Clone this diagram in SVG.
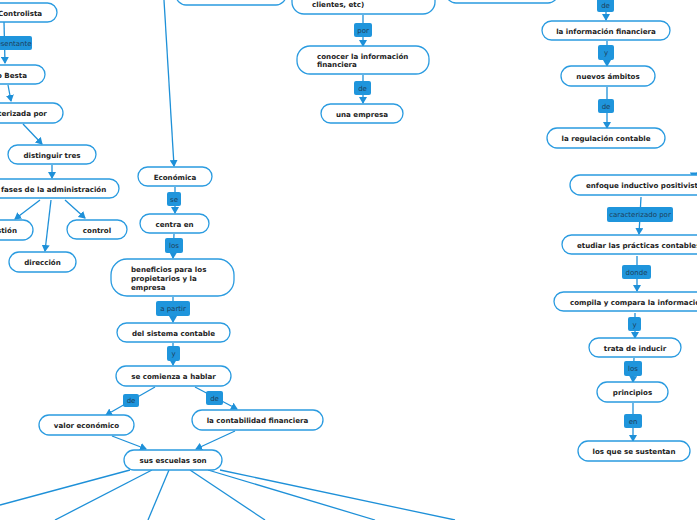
<svg xmlns="http://www.w3.org/2000/svg" width="697" height="520" viewBox="0 0 697 520">
<defs>
<marker id="a" markerWidth="8" markerHeight="8" refX="6" refY="4" orient="auto" markerUnits="userSpaceOnUse"><path d="M0,0 L7,4 L0,8 Z" fill="#1e90d8"/></marker>
<style>
.n{fill:#fff;stroke:#2a9be0;stroke-width:1.3}
.t{font-family:"DejaVu Sans",sans-serif;font-weight:bold;font-size:7.1px;fill:#222}
.c{text-anchor:middle}
.l{fill:#1f95dc;stroke:none}
.lt{font-family:"DejaVu Sans",sans-serif;font-size:7px;fill:#1d3f5a;text-anchor:middle}
.e{stroke:#1e90d8;stroke-width:1.3;fill:none}
.m{marker-end:url(#a)}
</style>
</defs>
<rect width="697" height="520" fill="#fff"/>
<g id="connectors">
<line class="e m" x1="4" y1="22" x2="5" y2="63"/>
<line class="e m" x1="8" y1="85" x2="11" y2="101"/>
<line class="e m" x1="23" y1="124" x2="42" y2="144"/>
<line class="e m" x1="52" y1="165" x2="52" y2="178"/>
<line class="e m" x1="40" y1="200" x2="15" y2="219"/>
<line class="e m" x1="51" y1="200" x2="45" y2="251"/>
<line class="e m" x1="65" y1="200" x2="85" y2="218"/>
<line class="e m" x1="164" y1="0" x2="174" y2="166"/>
<line class="e m" x1="175" y1="187" x2="175" y2="213"/>
<line class="e m" x1="174" y1="234" x2="173" y2="258"/>
<line class="e m" x1="173" y1="297" x2="173" y2="322"/>
<line class="e m" x1="173" y1="343" x2="173" y2="365"/>
<line class="e m" x1="155" y1="387" x2="106" y2="415"/>
<line class="e m" x1="195" y1="387" x2="237" y2="409"/>
<line class="e m" x1="112" y1="436" x2="146" y2="449"/>
<line class="e m" x1="235" y1="431" x2="196" y2="449"/>
<line class="e" x1="130" y1="470" x2="0" y2="505"/>
<line class="e" x1="152" y1="470" x2="55" y2="520"/>
<line class="e" x1="169" y1="470" x2="148" y2="520"/>
<line class="e" x1="190" y1="470" x2="265" y2="520"/>
<line class="e" x1="208" y1="470" x2="375" y2="520"/>
<line class="e" x1="220" y1="470" x2="455" y2="520"/>
<line class="e m" x1="363" y1="15" x2="363" y2="46"/>
<line class="e m" x1="363" y1="75" x2="363" y2="103"/>
<line class="e m" x1="606" y1="0" x2="606" y2="20"/>
<line class="e m" x1="607" y1="41" x2="607" y2="66"/>
<line class="e m" x1="607" y1="87" x2="607" y2="128"/>
<line class="e m" x1="690" y1="177" x2="697" y2="173"/>
<line class="e m" x1="641" y1="197" x2="639" y2="234"/>
<line class="e m" x1="637" y1="256" x2="637" y2="291"/>
<line class="e m" x1="635" y1="313" x2="635" y2="338"/>
<line class="e m" x1="634" y1="358" x2="633" y2="382"/>
<line class="e m" x1="633" y1="403" x2="633" y2="441"/>
<rect class="l" x="-4" y="36" width="36" height="14" rx="2"/><text class="lt" x="14" y="45.5">esentante</text>
<rect class="l" x="167" y="192" width="14" height="14" rx="2"/><text class="lt" x="174" y="201.5">se</text>
<rect class="l" x="165" y="238" width="18" height="15" rx="2"/><text class="lt" x="174" y="248">los</text>
<rect class="l" x="156" y="301" width="34" height="15" rx="2"/><text class="lt" x="173" y="311">a partir</text>
<rect class="l" x="167" y="346" width="13" height="15" rx="2"/><text class="lt" x="173.5" y="356">y</text>
<rect class="l" x="123" y="394" width="16" height="13" rx="2"/><text class="lt" x="131" y="403">de</text>
<rect class="l" x="206" y="391" width="17" height="14" rx="2"/><text class="lt" x="214.5" y="400.5">de</text>
<rect class="l" x="354" y="23" width="18" height="14" rx="2"/><text class="lt" x="363" y="32.5">por</text>
<rect class="l" x="354" y="81" width="17" height="14" rx="2"/><text class="lt" x="362.5" y="90.5">de</text>
<rect class="l" x="597" y="-2" width="17" height="14" rx="2"/><text class="lt" x="605.5" y="7.5">de</text>
<rect class="l" x="598" y="45" width="16" height="15" rx="2"/><text class="lt" x="606" y="55">y</text>
<rect class="l" x="598" y="99" width="16" height="14" rx="2"/><text class="lt" x="606" y="108.5">de</text>
<rect class="l" x="607" y="207" width="66" height="15" rx="2"/><text class="lt" x="640" y="217">caracterizado por</text>
<rect class="l" x="622" y="265" width="29" height="14" rx="2"/><text class="lt" x="636.5" y="274.5">donde</text>
<rect class="l" x="628" y="317" width="13" height="14" rx="2"/><text class="lt" x="634.5" y="326.5">y</text>
<rect class="l" x="624" y="361" width="18" height="15" rx="2"/><text class="lt" x="633" y="371">los</text>
<rect class="l" x="624" y="414" width="18" height="14" rx="2"/><text class="lt" x="633" y="423.5">en</text>
</g>
<g id="n1"><rect class="n" x="-40" y="3" width="97" height="19" rx="9.5"/><text class="t" x="-2" y="15.5">Controlista</text></g>
<g id="n2"><rect class="n" x="-40" y="65" width="85" height="19" rx="9.5"/><text class="t" x="-3" y="77.5">o Besta</text></g>
<g id="n3"><rect class="n" x="-40" y="103" width="103" height="20" rx="10"/><text class="t" x="-2" y="116">terizada por</text></g>
<g id="n4"><rect class="n" x="8" y="145" width="88" height="19" rx="9.5"/><text class="t c" x="52" y="157.5">distinguir tres</text></g>
<g id="n5"><rect class="n" x="-40" y="179" width="159" height="19" rx="9.5"/><text class="t" x="1" y="191.5">fases de la administración</text></g>
<g id="n6"><rect class="n" x="-40" y="220" width="73" height="20" rx="10"/><text class="t" x="-3" y="233">stión</text></g>
<g id="n7"><rect class="n" x="67" y="220" width="60" height="19" rx="9.5"/><text class="t c" x="97" y="232.5">control</text></g>
<g id="n8"><rect class="n" x="9" y="252" width="67" height="20" rx="10"/><text class="t c" x="42.5" y="265">dirección</text></g>
<g id="n9"><rect class="n" x="138" y="167" width="74" height="19" rx="9.5"/><text class="t c" x="175" y="179.5">Económica</text></g>
<g id="n10"><rect class="n" x="140" y="214" width="69" height="19" rx="9.5"/><text class="t c" x="174.5" y="226.5">centra en</text></g>
<g id="n11"><rect class="n" x="111" y="259" width="123" height="37" rx="16"/><text class="t" x="131" y="272">beneficios para los</text><text class="t" x="131" y="280.5">propietarios y la</text><text class="t" x="131" y="289.5">empresa</text></g>
<g id="n12"><rect class="n" x="117" y="323" width="113" height="19" rx="9.5"/><text class="t c" x="173.5" y="335.5">del sistema contable</text></g>
<g id="n13"><rect class="n" x="116" y="366" width="115" height="20" rx="10"/><text class="t c" x="173.5" y="379">se comienza a hablar</text></g>
<g id="n14"><rect class="n" x="39" y="415" width="95" height="20" rx="10"/><text class="t c" x="86.5" y="428">valor económico</text></g>
<g id="n15"><rect class="n" x="192" y="410" width="131" height="20" rx="10"/><text class="t c" x="257.5" y="423">la contabilidad financiera</text></g>
<g id="n16"><rect class="n" x="124" y="450" width="98" height="20" rx="10"/><text class="t c" x="173" y="463">sus escuelas son</text></g>
<g id="n17"><rect class="n" x="176" y="-15" width="110" height="20" rx="10"/></g>
<g id="n18"><rect class="n" x="292" y="-14" width="143" height="28" rx="12"/><text class="t" x="312" y="7">clientes, etc)</text></g>
<g id="n19"><rect class="n" x="297" y="46" width="132" height="28" rx="13"/><text class="t" x="317" y="58.5">conocer la información</text><text class="t" x="317" y="67">financiera</text></g>
<g id="n20"><rect class="n" x="321" y="104" width="82" height="19" rx="9.5"/><text class="t c" x="362" y="116.5">una empresa</text></g>
<g id="n21"><rect class="n" x="446" y="-17" width="112" height="20" rx="10"/></g>
<g id="n22"><rect class="n" x="542" y="21" width="128" height="19" rx="9.5"/><text class="t c" x="606" y="33.5">la información financiera</text></g>
<g id="n23"><rect class="n" x="561" y="66" width="94" height="20" rx="10"/><text class="t c" x="608" y="79">nuevos ámbitos</text></g>
<g id="n24"><rect class="n" x="547" y="128" width="118" height="20" rx="10"/><text class="t c" x="606" y="141">la regulación contable</text></g>
<g id="n25"><rect class="n" x="570" y="175" width="150" height="20" rx="10"/><text class="t" x="586" y="188">enfoque inductivo positivista</text></g>
<g id="n26"><rect class="n" x="562" y="235" width="160" height="19" rx="9.5"/><text class="t" x="577" y="247.5">etudiar las prácticas contables</text></g>
<g id="n27"><rect class="n" x="554" y="292" width="170" height="19" rx="9.5"/><text class="t" x="570" y="304.5">compila y compara la información</text></g>
<g id="n28"><rect class="n" x="589" y="338" width="92" height="19" rx="9.5"/><text class="t c" x="635" y="350.5">trata de inducir</text></g>
<g id="n29"><rect class="n" x="597" y="382" width="71" height="20" rx="10"/><text class="t c" x="632.5" y="395">principios</text></g>
<g id="n30"><rect class="n" x="578" y="441" width="112" height="20" rx="10"/><text class="t c" x="634" y="454">los que se sustentan</text></g>
</svg>
